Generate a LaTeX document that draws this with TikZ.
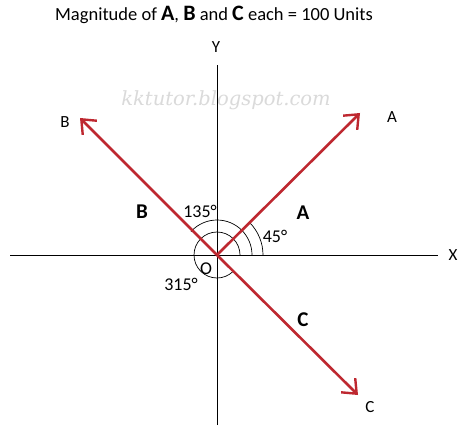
\documentclass[tikz,border=0pt]{standalone}
\usepackage{fontspec}
\setmainfont{Carlito}
\newfontfamily\markfont{DejaVu Serif}
\usetikzlibrary{arrows.meta,positioning}
\definecolor{vecred}{RGB}{190,40,48}
\definecolor{markgray}{RGB}{218,218,218}

\begin{document}
\begin{tikzpicture}[x=1pt, y=1pt,
    axis/.style={draw=black, line width=0.9pt},
    vec/.style={draw=vecred, line width=2.6pt,
        -{Straight Barb[length=12pt, width=20pt, line width=2.4pt]}},
    tip/.style={font=\fontsize{17}{19}\selectfont},
    big/.style={font=\fontsize{21}{23}\selectfont\bfseries},
    ang/.style={font=\fontsize{18}{20}\selectfont},
    angarc/.style={draw=black, line width=0.7pt}]
    \useasboundingbox[fill=white] (0,0) rectangle (465,442);
    % title
    \node (title) at (214,427) {\fontsize{18.5}{20}\selectfont Magnitude of {\fontsize{22}{23}\selectfont\bfseries A}, {\fontsize{22}{23}\selectfont\bfseries B} and {\fontsize{22}{23}\selectfont\bfseries C} each = 100 Units};
    \node[text=markgray, font=\markfont\itshape\fontsize{19.5}{21}\selectfont] (mark) at (226,342) {kktutor.blogspot.com};
    % axes
    \coordinate (O) at (217,187);
    \coordinate (xl) at (10,187);
    \coordinate (xr) at (438,187);
    \coordinate (yt) at (217,377);
    \coordinate (yb) at (217,17);
    \node[tip] (X) at (453,187) {X};
    \node[tip] (Y) at (216,395) {Y};
    \draw[axis] (xl) -- (xr);
    \draw[axis] (yb) -- (yt);
    % angle arcs
    \draw[angarc] ([shift={(0:23pt)}]O) arc[start angle=0, end angle=315, radius=23pt];
    \draw[angarc] ([shift={(0:35pt)}]O) arc[start angle=0, end angle=138, radius=35pt];
    \draw[angarc] ([shift={(0:46pt)}]O) arc[start angle=0, end angle=45, radius=46pt];
    % vectors
    \coordinate (tA) at (360,329);
    \coordinate (tB) at (80,324);
    \coordinate (tC) at (358,47);
    \draw[vec] (O) -- (tA);
    \draw[vec] (O) -- (tB);
    \draw[vec] (O) -- (tC);
    \node[tip] (A) at (392,325) {A};
    \node[tip] (B) at (65,320) {B};
    \node[tip] (C) at (370,35) {C};
    \node[big] (bA) at (303,229) {A};
    \node[big] (bB) at (142,230) {B};
    \node[big] (bC) at (303,122) {C};
    \node[ang] (a135) at (200,231) {135°};
    \node[ang] (a45) at (275,206) {45°};
    \node[ang] (a315) at (181,158) {315°};
    \node[ang] (lO) at (206,173) {O};
\end{tikzpicture}
\end{document}
